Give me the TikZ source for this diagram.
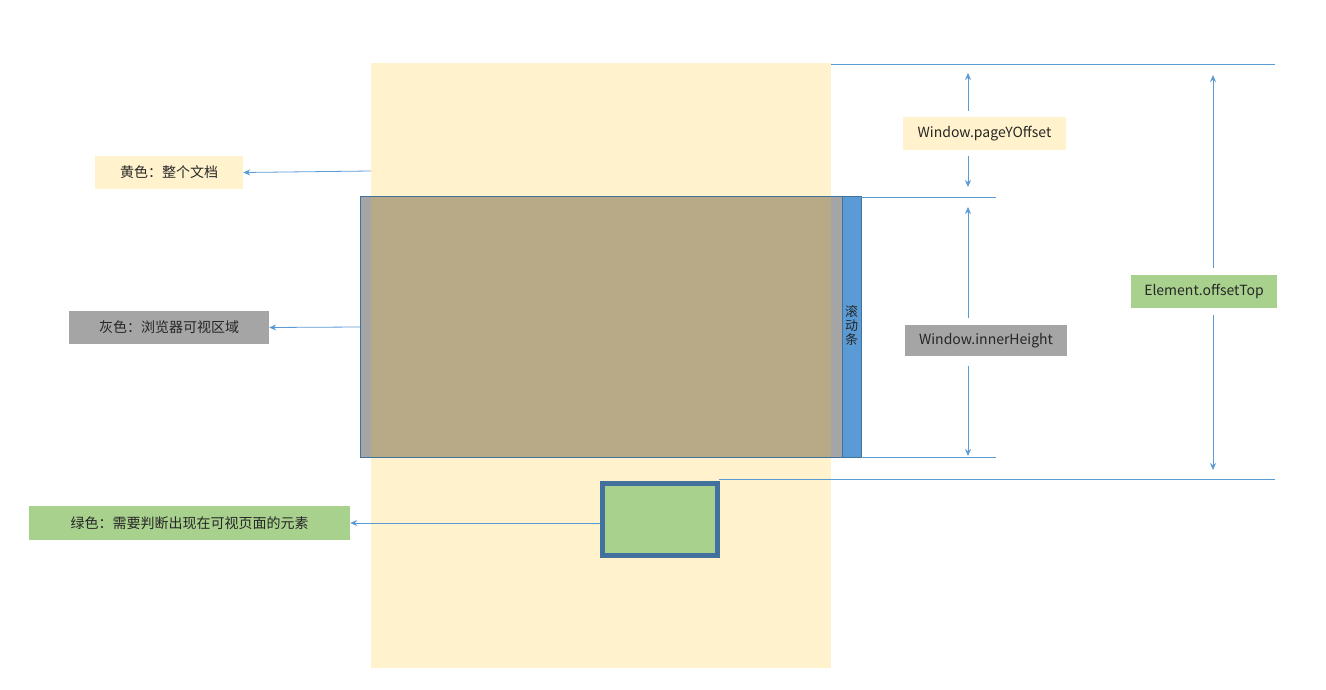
\documentclass[tikz,border=0pt]{standalone}
\usepackage{fontspec}
\setmainfont{Noto Sans CJK SC}
\usetikzlibrary{arrows.meta}
\definecolor{yel}{HTML}{FFF2CC}
\definecolor{gry}{HTML}{A5A5A5}
\definecolor{tan}{HTML}{B8AA86}
\definecolor{grn}{HTML}{A9D18E}
\definecolor{blu}{HTML}{5B9BD5}
\definecolor{dblu}{HTML}{41719C}
\begin{document}
\begin{tikzpicture}[x=1pt,y=-1pt,
  lbl/.style={inner sep=0pt,font=\fontsize{14}{16}\selectfont,text=black!85},
  arr/.style={draw=blu,line width=0.8pt,-{Stealth[length=7pt,width=6pt]}},
  ln/.style={draw=blu,line width=0.8pt}]
\useasboundingbox (0,0) rectangle (1326,690);
\fill[yel] (371,63) rectangle (831,668);
\fill[gry] (360,197) rectangle (842,457);
\fill[tan] (371,197) rectangle (831,457);
\draw[dblu,line width=1pt] (360,197) rectangle (842,457);
\draw[dblu,fill=blu,line width=1pt] (842,197) rectangle (861,457);
\node[lbl,align=center,font=\fontsize{13}{14}\selectfont,anchor=north] (sb) at (851.5,305) {滚\\动\\条};
\draw[dblu,fill=grn,line width=5pt] (602,483) rectangle (717,555);
\coordinate (gl) at (600,523);
\node[fill=yel,minimum width=148,minimum height=33,lbl] (y) at (169,172.5) {黄色：整个文档};
\node[fill=gry,minimum width=200,minimum height=33,lbl] (g) at (169,327.5) {灰色：浏览器可视区域};
\node[fill=grn,minimum width=321,minimum height=34,lbl] (e) at (189.5,523) {绿色：需要判断出现在可视页面的元素};
\coordinate (ys) at (371,171);
\coordinate (gs) at (360,327);
\draw[arr] (ys) -- (y.east);
\draw[arr] (gs) -- (g.east);
\draw[arr] (gl) -- (e.east);
\draw[ln] (831,64) -- (1275,64);
\draw[ln] (861,197) -- (996,197);
\draw[ln] (861,457) -- (996,457);
\draw[ln] (719,479) -- (1275,479);
\node[fill=yel,minimum width=163,minimum height=33,lbl] (p) at (984.5,133.5) {Window.pageYOffset};
\node[fill=gry,minimum width=162,minimum height=31,lbl] (h) at (986,340.5) {Window.innerHeight};
\node[fill=grn,minimum width=146,minimum height=33,lbl] (o) at (1204,291.5) {Element.offsetTop};
\coordinate (p1) at (968,73); \coordinate (p2) at (968,187);
\coordinate (h1) at (968,207); \coordinate (h2) at (968,456);
\coordinate (o1) at (1213,75); \coordinate (o2) at (1213,470);
\draw[arr] (968,111) -- (p1);
\draw[arr] (968,156) -- (p2);
\draw[arr] (968,318) -- (h1);
\draw[arr] (968,366) -- (h2);
\draw[arr] (1213,268) -- (o1);
\draw[arr] (1213,315) -- (o2);
\end{tikzpicture}
\end{document}
